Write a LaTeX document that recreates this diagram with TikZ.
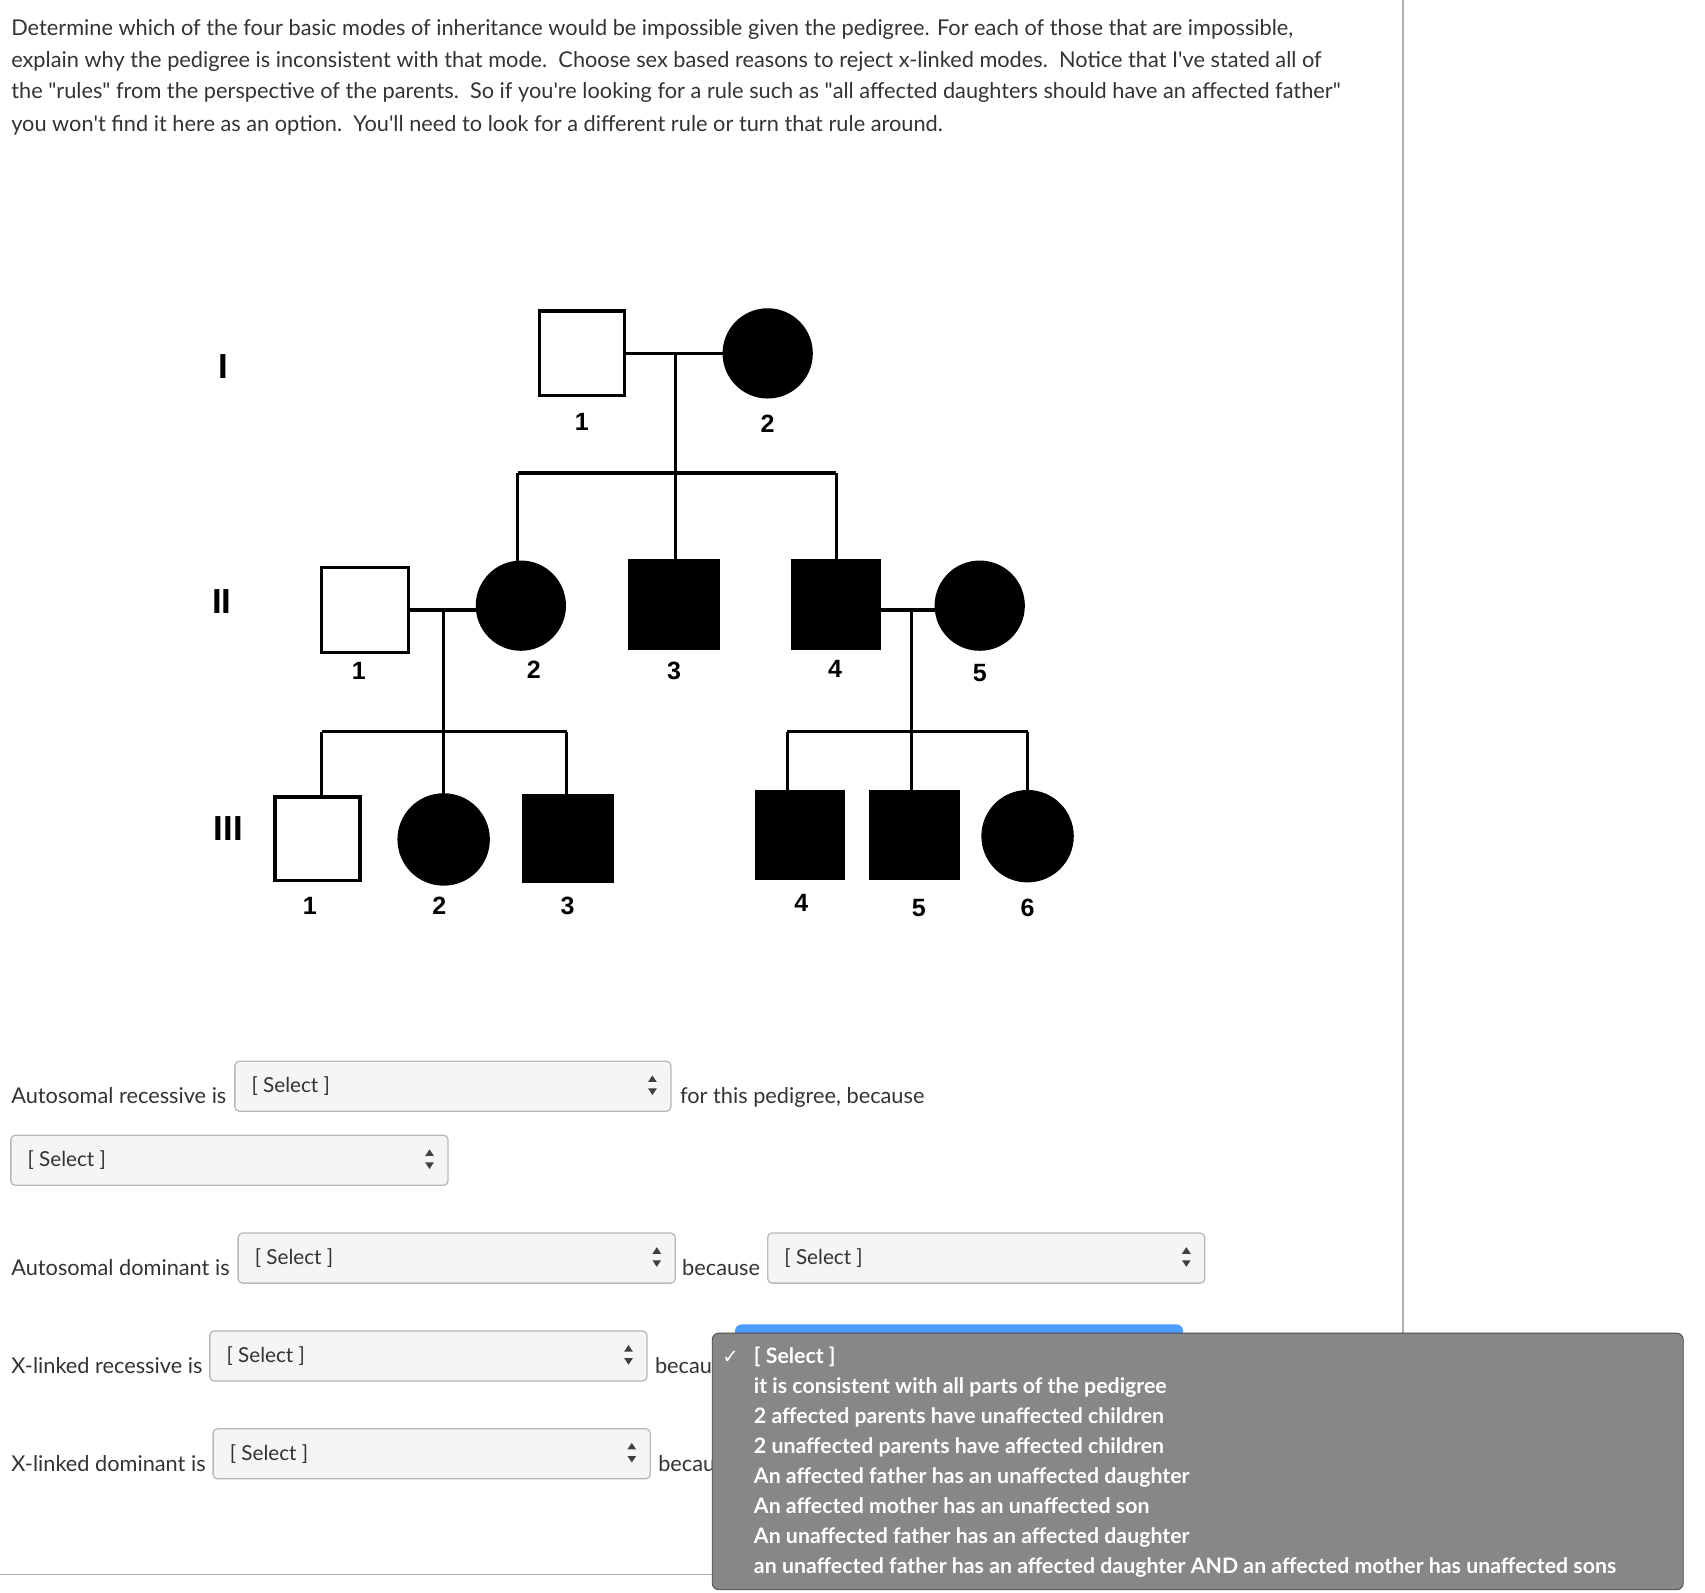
\documentclass[tikz,border=0pt]{standalone}
\usepackage{fontspec}
\setmainfont{Lato}
\newfontfamily\numfont{Liberation Sans}
\begin{document}
\begin{tikzpicture}[x=0.5pt,y=-0.5pt,
 txt/.style={anchor=base west,inner sep=0,font=\fontsize{10}{12}\selectfont,text=black!80},
 sel/.style={draw=gray!55,fill=gray!8,rounded corners=2pt,line width=0.6pt},
 num/.style={font=\fontsize{11.5}{12}\selectfont\bfseries\numfont,inner sep=0},
 gen/.style={font=\fontsize{16}{16}\selectfont\bfseries\numfont,inner sep=0},
 ln/.style={line width=1.5pt},
 aff/.style={fill=black,draw=black,line width=1.5pt},
 un/.style={fill=white,draw=black,line width=1.5pt}]
\useasboundingbox (0,0) rectangle (1568,1465);
\draw[gray!60,line width=0.8pt] (1290,0) -- (1290,1226);
\draw[gray!60,line width=0.8pt] (0,1448) -- (655,1448);
\node[txt] at (10,33) {Determine which of the four basic modes of inheritance would be impossible given the pedigree. For each of those that are impossible,};
\node[txt] at (10,62) {explain why the pedigree is inconsistent with that mode.\ \ Choose sex based reasons to reject x-linked modes.\ \ Notice that I\textquotesingle ve stated all of};
\node[txt] at (10,91) {the \textquotedbl rules\textquotedbl\ from the perspective of the parents.\ \ So if you\textquotesingle re looking for a rule such as \textquotedbl all affected daughters should have an affected father\textquotedbl};
\node[txt] at (10,121) {you won\textquotesingle t find it here as an option.\ \ You\textquotesingle ll need to look for a different rule or turn that rule around.};
% generation labels
\node[gen] (gI) at (205,337) {I};
\node[gen] (gII) at (204,553) {II};
\node[gen] (gIII) at (210,762) {III};
% lines
\draw[ln] (574,325) -- (666,325) (621,325) -- (621,435) (476,435) -- (769,435)
 (476,435) -- (476,517) (621,435) -- (621,516) (769,435) -- (769,516);
\draw[ln] (376,561) -- (439,561) (408,561) -- (408,673) (296,673) -- (521,673)
 (296,673) -- (296,733) (408,673) -- (408,731) (521,673) -- (521,733);
\draw[ln] (809,561) -- (861,561) (838,561) -- (838,673) (724,673) -- (945,673)
 (724,673) -- (724,728) (838,673) -- (838,728) (945,673) -- (945,728);
% individuals
\draw[un] (496,286) rectangle (574,364);
\draw[aff] (706,325) circle (40);
\draw[un] (296,522) rectangle (376,600);
\draw[aff] (479,557) circle (40);
\draw[aff] (579,516) rectangle (661,596);
\draw[aff] (729,516) rectangle (809,596);
\draw[aff] (901,557) circle (40);
\draw[un] (253,733) rectangle (331,810);
\draw[aff] (408,772) circle (41);
\draw[aff] (482,732) rectangle (563,811);
\draw[aff] (696,728) rectangle (776,808);
\draw[aff] (801,728) rectangle (881,808);
\draw[aff] (945,769) circle (41);
% numbers
\node[num] (n11) at (535,388) {1}; \node[num] (n12) at (706,390) {2};
\node[num] (n21) at (330,617) {1}; \node[num] (n22) at (491,616) {2};
\node[num] (n23) at (620,617) {3}; \node[num] (n24) at (768,615) {4};
\node[num] (n25) at (901,619) {5};
\node[num] (n31) at (285,833) {1}; \node[num] (n32) at (404,833) {2};
\node[num] (n33) at (522,833) {3}; \node[num] (n34) at (737,830) {4};
\node[num] (n35) at (845,835) {5}; \node[num] (n36) at (945,835) {6};
% form
\newcommand\selbox[3]{%
 \draw[sel] (#1,#2) rectangle (#3,#2+46);
 \node[txt,font=\fontsize{9.5}{11}\selectfont] at (#1+15,#2+29) {[ Select ]};
 \fill[black!75] (#3-21,#2+19) -- (#3-13,#2+19) -- (#3-17,#2+13) -- cycle;
 \fill[black!75] (#3-21,#2+25) -- (#3-13,#2+25) -- (#3-17,#2+31) -- cycle;}
\node[txt] at (10,1015) {Autosomal recessive is};
\selbox{216}{976}{617}
\node[txt] at (625,1015) {for this pedigree, because};
\selbox{10}{1044}{412}
\node[txt] at (10,1173) {Autosomal dominant is};
\selbox{219}{1134}{621}
\node[txt] at (627,1173) {because};
\selbox{706}{1134}{1108}
\node[txt] at (10,1263) {X-linked recessive is};
\selbox{193}{1224}{595}
\node[txt] at (602,1263) {because};
\node[txt] at (10,1353) {X-linked dominant is};
\selbox{196}{1314}{598}
\node[txt] at (605,1353) {because};
% dropdown
\fill[blue!55!cyan!70,rounded corners=3pt] (676,1218) rectangle (1088,1232);
\draw[draw=gray!60!black,rounded corners=3pt,fill=black!47] (655,1226) rectangle (1548,1462);
\node[txt,text=white] at (664,1254) {\fontspec{DejaVu Sans}\fontsize{9}{10}\selectfont\bfseries ✓};
\foreach \t [count=\i from 0] in {[ Select ],it is consistent with all parts of the pedigree,2 affected parents have unaffected children,2 unaffected parents have affected children,An affected father has an unaffected daughter,An affected mother has an unaffected son,An unaffected father has an affected daughter,an unaffected father has an affected daughter AND an affected mother has unaffected sons}
 \node[txt,text=white,font=\fontsize{9.8}{11}\selectfont\bfseries] at (693,1254+27.6*\i) {\t};
\end{tikzpicture}
\end{document}
